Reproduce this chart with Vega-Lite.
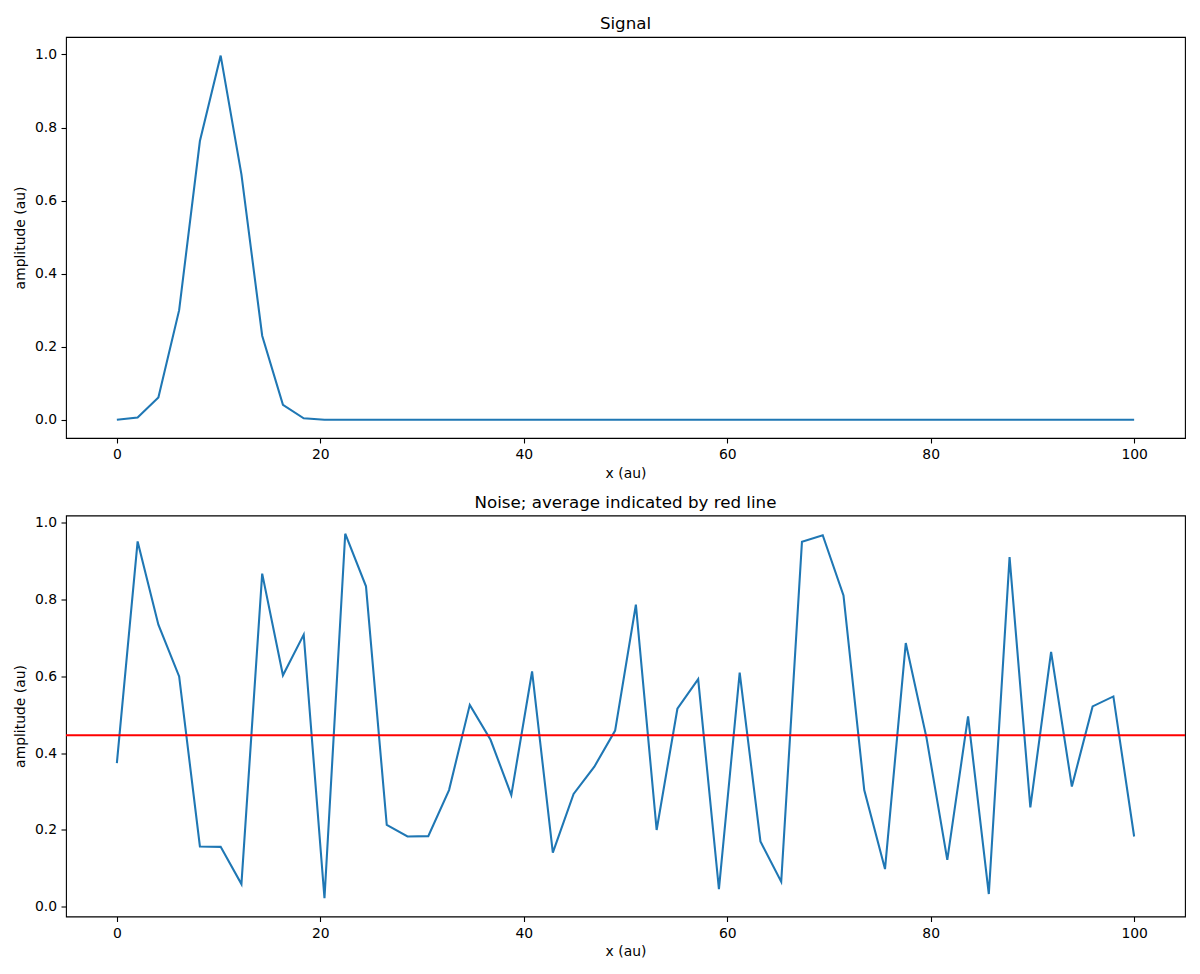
{
  "$schema": "https://vega.github.io/schema/vega-lite/v6.json",
  "padding": {"left": 13, "top": 15, "right": 5, "bottom": 5},
  "background": "white",
  "config": {
    "font": "DejaVu Sans",
    "view": {"stroke": "black", "strokeWidth": 1.1},
    "axis": {
      "grid": false, "domain": false, "tickColor": "black", "tickSize": 5, "tickWidth": 1.1,
      "labelFontSize": 13.9, "labelColor": "black", "labelPadding": 4.5, "labelFont": "DejaVu Sans", "labelFlush": false,
      "titleFontSize": 13.9, "titleFontWeight": "normal", "titleColor": "black", "titleFont": "DejaVu Sans"
    },
    "axisY": {"titlePadding": 6.5},
    "axisX": {"titlePadding": 5},
    "title": {"fontSize": 16.7, "fontWeight": "normal", "color": "black", "offset": 4, "font": "DejaVu Sans", "anchor": "middle", "baseline": "alphabetic"},
    "concat": {"spacing": 12.5}
  },
  "datasets": {
    "signal": [
      {"x": 0, "amplitude": 0.0003}, {"x": 2.0408, "amplitude": 0.006}, {"x": 4.0816, "amplitude": 0.061},
      {"x": 6.1224, "amplitude": 0.300}, {"x": 8.1633, "amplitude": 0.763}, {"x": 10.2041, "amplitude": 0.997},
      {"x": 12.2449, "amplitude": 0.672}, {"x": 14.2857, "amplitude": 0.230}, {"x": 16.3265, "amplitude": 0.041},
      {"x": 18.3673, "amplitude": 0.004}, {"x": 20.4082, "amplitude": 0.0002}, {"x": 22.449, "amplitude": 0},
      {"x": 24.4898, "amplitude": 0}, {"x": 26.5306, "amplitude": 0}, {"x": 28.5714, "amplitude": 0},
      {"x": 30.6122, "amplitude": 0}, {"x": 32.6531, "amplitude": 0}, {"x": 34.6939, "amplitude": 0},
      {"x": 36.7347, "amplitude": 0}, {"x": 38.7755, "amplitude": 0}, {"x": 40.8163, "amplitude": 0},
      {"x": 42.8571, "amplitude": 0}, {"x": 44.898, "amplitude": 0}, {"x": 46.9388, "amplitude": 0},
      {"x": 48.9796, "amplitude": 0}, {"x": 51.0204, "amplitude": 0}, {"x": 53.0612, "amplitude": 0},
      {"x": 55.102, "amplitude": 0}, {"x": 57.1429, "amplitude": 0}, {"x": 59.1837, "amplitude": 0},
      {"x": 61.2245, "amplitude": 0}, {"x": 63.2653, "amplitude": 0}, {"x": 65.3061, "amplitude": 0},
      {"x": 67.3469, "amplitude": 0}, {"x": 69.3878, "amplitude": 0}, {"x": 71.4286, "amplitude": 0},
      {"x": 73.4694, "amplitude": 0}, {"x": 75.5102, "amplitude": 0}, {"x": 77.551, "amplitude": 0},
      {"x": 79.5918, "amplitude": 0}, {"x": 81.6327, "amplitude": 0}, {"x": 83.6735, "amplitude": 0},
      {"x": 85.7143, "amplitude": 0}, {"x": 87.7551, "amplitude": 0}, {"x": 89.7959, "amplitude": 0},
      {"x": 91.8367, "amplitude": 0}, {"x": 93.8776, "amplitude": 0}, {"x": 95.9184, "amplitude": 0},
      {"x": 97.9592, "amplitude": 0}, {"x": 100, "amplitude": 0}
    ],
    "noise": [
      {"x": 0, "amplitude": 0.374}, {"x": 2.0408, "amplitude": 0.952}, {"x": 4.0816, "amplitude": 0.735},
      {"x": 6.1224, "amplitude": 0.600}, {"x": 8.1633, "amplitude": 0.157}, {"x": 10.2041, "amplitude": 0.156},
      {"x": 12.2449, "amplitude": 0.059}, {"x": 14.2857, "amplitude": 0.868}, {"x": 16.3265, "amplitude": 0.603},
      {"x": 18.3673, "amplitude": 0.709}, {"x": 20.4082, "amplitude": 0.022}, {"x": 22.449, "amplitude": 0.972},
      {"x": 24.4898, "amplitude": 0.835}, {"x": 26.5306, "amplitude": 0.213}, {"x": 28.5714, "amplitude": 0.183},
      {"x": 30.6122, "amplitude": 0.184}, {"x": 32.6531, "amplitude": 0.304}, {"x": 34.6939, "amplitude": 0.526},
      {"x": 36.7347, "amplitude": 0.435}, {"x": 38.7755, "amplitude": 0.291}, {"x": 40.8163, "amplitude": 0.613},
      {"x": 42.8571, "amplitude": 0.141}, {"x": 44.898, "amplitude": 0.294}, {"x": 46.9388, "amplitude": 0.365},
      {"x": 48.9796, "amplitude": 0.459}, {"x": 51.0204, "amplitude": 0.787}, {"x": 53.0612, "amplitude": 0.200},
      {"x": 55.102, "amplitude": 0.516}, {"x": 57.1429, "amplitude": 0.593}, {"x": 59.1837, "amplitude": 0.046},
      {"x": 61.2245, "amplitude": 0.610}, {"x": 63.2653, "amplitude": 0.170}, {"x": 65.3061, "amplitude": 0.065},
      {"x": 67.3469, "amplitude": 0.951}, {"x": 69.3878, "amplitude": 0.968}, {"x": 71.4286, "amplitude": 0.811},
      {"x": 73.4694, "amplitude": 0.304}, {"x": 75.5102, "amplitude": 0.098}, {"x": 77.551, "amplitude": 0.687},
      {"x": 79.5918, "amplitude": 0.440}, {"x": 81.6327, "amplitude": 0.122}, {"x": 83.6735, "amplitude": 0.496},
      {"x": 85.7143, "amplitude": 0.033}, {"x": 87.7551, "amplitude": 0.911}, {"x": 89.7959, "amplitude": 0.259},
      {"x": 91.8367, "amplitude": 0.664}, {"x": 93.8776, "amplitude": 0.313}, {"x": 95.9184, "amplitude": 0.522},
      {"x": 97.9592, "amplitude": 0.548}, {"x": 100, "amplitude": 0.183}
    ]
  },
  "vconcat": [
    {
      "title": "Signal",
      "width": 1119,
      "height": 401,
      "data": {"name": "signal"},
      "mark": {"type": "line", "color": "#1f77b4", "strokeWidth": 2.08},
      "encoding": {
        "x": {"field": "x", "type": "quantitative", "title": "x (au)",
              "scale": {"domain": [-5, 105], "nice": false, "zero": false},
              "axis": {"values": [0, 20, 40, 60, 80, 100]}},
        "y": {"field": "amplitude", "type": "quantitative", "title": "amplitude (au)",
              "scale": {"domain": [-0.0499, 1.0478], "nice": false, "zero": false},
              "axis": {"values": [0, 0.2, 0.4, 0.6, 0.8, 1.0], "format": ".1f"}}
      }
    },
    {
      "title": "Noise; average indicated by red line",
      "width": 1119,
      "height": 401,
      "data": {"name": "noise"},
      "layer": [
        {
          "mark": {"type": "line", "color": "#1f77b4", "strokeWidth": 2.08},
          "encoding": {
            "x": {"field": "x", "type": "quantitative", "title": "x (au)",
                  "scale": {"domain": [-5, 105], "nice": false, "zero": false},
                  "axis": {"values": [0, 20, 40, 60, 80, 100]}},
            "y": {"field": "amplitude", "type": "quantitative", "title": "amplitude (au)",
                  "scale": {"domain": [-0.0255, 1.0195], "nice": false, "zero": false},
                  "axis": {"values": [0, 0.2, 0.4, 0.6, 0.8, 1.0], "format": ".1f"}}
          }
        },
        {
          "mark": {"type": "rule", "color": "#ff0000", "strokeWidth": 2.08},
          "encoding": {
            "y": {"aggregate": "mean", "field": "amplitude", "type": "quantitative"}
          }
        }
      ]
    }
  ]
}
